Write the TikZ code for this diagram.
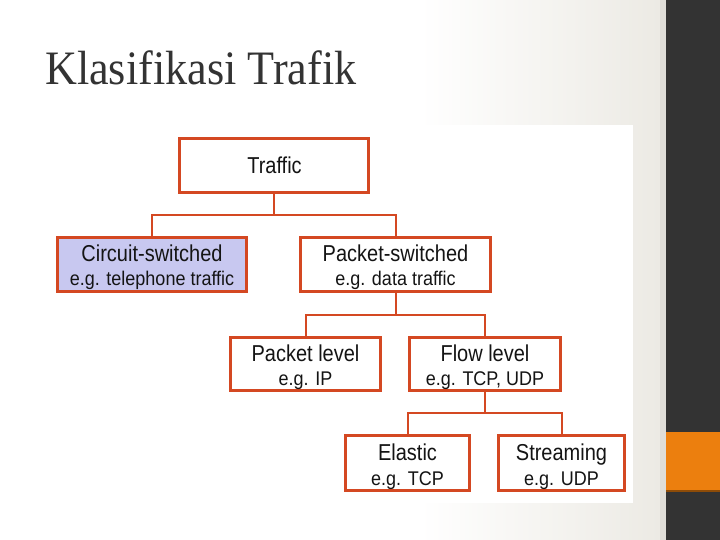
\documentclass[tikz,border=0pt]{standalone}
\usepackage{fontspec}
\setmainfont{Liberation Sans}
\newfontfamily\titlefont{Liberation Serif}
\definecolor{boxred}{RGB}{212,72,34}
\definecolor{lav}{RGB}{200,200,240}
\definecolor{darkbar}{RGB}{51,51,51}
\definecolor{orangebar}{RGB}{236,127,14}
\definecolor{slidebg}{RGB}{236,234,228}
\definecolor{txt}{RGB}{20,20,20}
\newcommand{\lineA}[1]{\scalebox{1}[1.15]{\fontsize{20}{24}\selectfont #1}}
\newcommand{\lineB}[1]{\scalebox{1}[1.1]{\fontsize{18}{22}\selectfont #1}}
\begin{document}
\begin{tikzpicture}[x=1pt,y=-1pt,
  cbox/.style={draw=boxred, line width=3pt, fill=white, rectangle, inner sep=0pt},
  ltxt/.style={anchor=base, inner sep=0pt, text=txt},
  conn/.style={draw=boxred, line width=2pt}]
\useasboundingbox (0,0) rectangle (720,540);
% background
\fill[white] (0,0) rectangle (660,540);
\shade[left color=white, right color=slidebg] (420,0) rectangle (660,540);
\fill[slidebg!95!black] (660,0) rectangle (666,540);
\fill[darkbar] (666,0) rectangle (720,540);
\fill[orangebar] (666,432) rectangle (720,490);
\fill[orangebar!60!black] (666,490) rectangle (720,492);
\fill[white] (40,125) rectangle (633,503);
% title
\node[anchor=base west, inner sep=0pt, text=darkbar] (title) at (45,85)
  {\scalebox{0.92}[1]{\titlefont\fontsize{48}{56}\selectfont Klasifikasi Trafik}};
% boxes
\node[cbox, minimum width=189pt, minimum height=54pt] (traffic) at (274,165.5) {};
\node[cbox, fill=lav, minimum width=189pt, minimum height=54pt] (circ) at (152,264.5) {};
\node[cbox, minimum width=190pt, minimum height=54pt] (pack) at (395.5,264.5) {};
\node[cbox, minimum width=150pt, minimum height=53pt] (plevel) at (305.5,364) {};
\node[cbox, minimum width=151pt, minimum height=53pt] (flow) at (485,364) {};
\node[cbox, minimum width=124pt, minimum height=55pt] (elastic) at (407.5,463) {};
\node[cbox, minimum width=126pt, minimum height=55pt] (stream) at (561.5,463) {};
% texts
\node[ltxt] (t-traffic) at (274.5,174) {\lineA{Traffic}};
\node[ltxt] (t-circ1) at (152,261) {\lineA{Circuit-switched}};
\node[ltxt] (t-circ2) at (152,285) {\lineB{e.g. telephone traffic}};
\node[ltxt] (t-pack1) at (395.5,261) {\lineA{Packet-switched}};
\node[ltxt] (t-pack2) at (395.5,285) {\lineB{e.g. data traffic}};
\node[ltxt] (t-pl1) at (305.5,361) {\lineA{Packet level}};
\node[ltxt] (t-pl2) at (305.5,385) {\lineB{e.g. IP}};
\node[ltxt] (t-fl1) at (485,361) {\lineA{Flow level}};
\node[ltxt] (t-fl2) at (485,385) {\lineB{e.g. TCP, UDP}};
\node[ltxt] (t-el1) at (407.5,460) {\lineA{Elastic}};
\node[ltxt] (t-el2) at (407.5,485) {\lineB{e.g. TCP}};
\node[ltxt] (t-st1) at (561.5,460) {\lineA{Streaming}};
\node[ltxt] (t-st2) at (561.5,485) {\lineB{e.g. UDP}};
% connectors
\coordinate (j1) at (274,215);
\coordinate (j2) at (395.5,315);
\coordinate (j3) at (485,413);
\draw[conn] (traffic.south) -- (j1);
\draw[conn] (circ.north) |- (j1) -| (pack.north);
\draw[conn] (pack.south) -- (j2);
\draw[conn] (plevel.north) |- (j2) -| (flow.north);
\draw[conn] (flow.south) -- (j3);
\draw[conn] (elastic.north) |- (j3) -| (stream.north);
\end{tikzpicture}
\end{document}
